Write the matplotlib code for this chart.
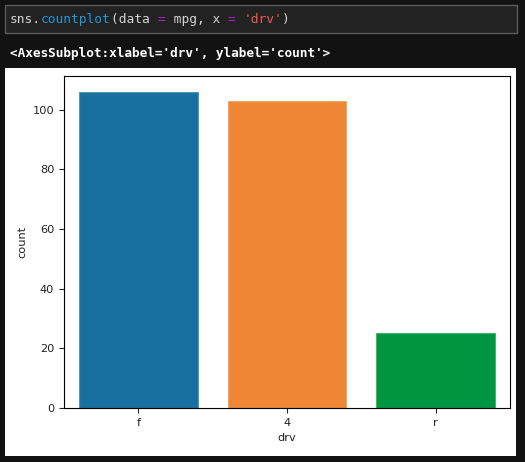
import matplotlib
matplotlib.use("Agg")
import matplotlib.pyplot as plt
from matplotlib.patches import Rectangle

categories = ["f", "4", "r"]
counts = [106, 103, 25]
bar_colors = ["#1870a0", "#ee8636", "#00963f"]
edge_colors = ["#4f95bb", "#f4a468", "#44b06f"]

W, H = 525, 462
DPI = 100
fig = plt.figure(figsize=(W / DPI, H / DPI), dpi=DPI, facecolor="#121212")

def fx(px):
    return px / W

def fy(py):
    return 1 - py / H

# code cell box
fig.patches.append(Rectangle((fx(5), fy(33)), fx(512), 28 / H, transform=fig.transFigure,
                             facecolor="#222222", edgecolor="#5a5a5a", linewidth=1.0, zorder=-10))
# white output area
fig.patches.append(Rectangle((fx(5), fy(456)), fx(511), 388 / H, transform=fig.transFigure,
                             facecolor="white", edgecolor="none", zorder=-10))

fs = 9.3
cw = 0.602 * fs * DPI / 72.0
segments = [("sns.", "#d4d4d4"), ("countplot", "#1d9ad6"), ("(data ", "#d4d4d4"),
            ("=", "#b51fd6"), (" mpg, x ", "#d4d4d4"), ("=", "#b51fd6"), (" ", "#d4d4d4"),
            ("'drv'", "#f25656"), (")", "#d4d4d4")]
pos = 0
for txt, col in segments:
    fig.text(fx(10 + pos * cw), fy(19.5), txt, family="DejaVu Sans Mono", fontsize=fs,
             color=col, va="center", ha="left")
    pos += len(txt)

fig.text(fx(10), fy(53), "<AxesSubplot:xlabel='drv', ylabel='count'>", family="DejaVu Sans Mono",
         fontsize=9.2, fontweight="bold", color="white", va="center", ha="left")

ax = fig.add_axes([fx(64), fy(408), (510 - 64) / W, (408 - 76) / H])
ax.set_zorder(1)
x = list(range(len(categories)))
ax.bar(x, counts, width=0.8, color=bar_colors, edgecolor=edge_colors, linewidth=0.8)
ax.set_xlim(-0.5, 2.5)
ax.set_ylim(0, 111.3)
ax.set_xticks(x)
ax.set_xticklabels(categories)
ax.set_yticks([0, 20, 40, 60, 80, 100])
ax.tick_params(labelsize=8.2, colors="#222222", length=3.5)
ax.set_xlabel("drv", fontsize=8.2, color="#222222", labelpad=4)
ax.set_ylabel("count", fontsize=8.2, color="#222222", labelpad=4)
for s in ax.spines.values():
    s.set_linewidth(0.8)

fig.savefig("out.png", dpi=DPI, facecolor=fig.get_facecolor())
